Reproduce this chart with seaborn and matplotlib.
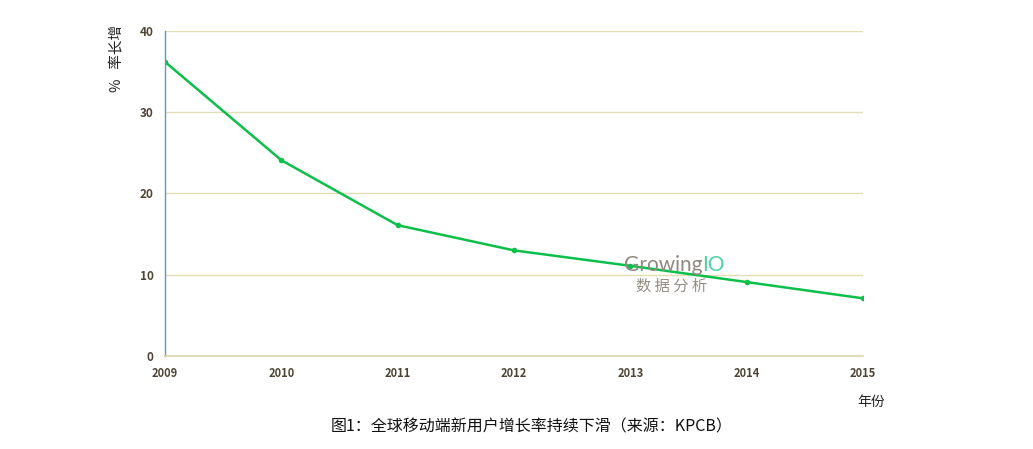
import matplotlib
matplotlib.use("Agg")
import matplotlib.pyplot as plt
import seaborn as sns
import pandas as pd

# ── Data ──────────────────────────────────────────────────────────────────────
years = [2009, 2010, 2011, 2012, 2013, 2014, 2015]
growth = [36.2, 24.1, 16.1, 13.0, 11.1, 9.1, 7.1]
y_ticks = [0, 10, 20, 30, 40]

df = pd.DataFrame({"year": years, "growth": growth})

sns.set_style("white")
plt.rcParams["font.family"] = ["Noto Sans CJK SC", "DejaVu Sans"]

fig = plt.figure(figsize=(10.33, 4.49), dpi=100)
ax = fig.add_axes([0.1597, 0.2071, 0.6757, 0.7239])

# watermark (behind the line)
fig.text(0.604, 0.41, "Growing", ha="left", va="center", fontsize=15,
         color="#8f897f", family=["Lato", "DejaVu Sans"], zorder=0)
fig.text(0.680, 0.41, "IO", ha="left", va="center", fontsize=15,
         color="#4fd3a0", family=["Lato", "DejaVu Sans"], zorder=0)
fig.text(0.616, 0.362, "数 据 分 析", ha="left", va="center", fontsize=11,
         color="#948e84", zorder=0)
ax.patch.set_alpha(0)

sns.lineplot(data=df, x="year", y="growth", ax=ax, color="#0cbf4a",
             linewidth=1.8, marker="o", markersize=4, markeredgewidth=0)

ax.set_xlim(2009, 2015)
ax.set_ylim(0, 40)
ax.set_xticks(years)
ax.set_yticks(y_ticks)
ax.yaxis.grid(True, color="#e2ddb5", linewidth=1)
ax.set_axisbelow(True)

for s in ["top", "right"]:
    ax.spines[s].set_visible(False)
ax.spines["left"].set_color("#6a93bd")
ax.spines["bottom"].set_color("#ddd7a8")
ax.spines["left"].set_linewidth(1)
ax.spines["bottom"].set_linewidth(1.2)

ax.tick_params(axis="x", direction="in", length=4, color="#ddd7a8",
               labelsize=8, labelcolor="#4d4434", pad=8)
ax.tick_params(axis="y", direction="out", length=0, labelsize=8.5,
               labelcolor="#4d4434", pad=8)
for lab in ax.get_xticklabels() + ax.get_yticklabels():
    lab.set_fontweight("bold")

ax.set_xlabel("")
ax.set_ylabel("")

fig.text(0.113, 0.945, "%   率长增", rotation=90, ha="center", va="top",
         fontsize=10.5, color="#222222")
fig.text(0.843, 0.105, "年份", ha="center", va="center",
         fontsize=10, color="#222222")
fig.text(0.515, 0.05, "图1：全球移动端新用户增长率持续下滑（来源：KPCB）",
         ha="center", va="center", fontsize=11.5, color="#111111",
         fontweight="medium")

fig.savefig("out.png", dpi=100)
